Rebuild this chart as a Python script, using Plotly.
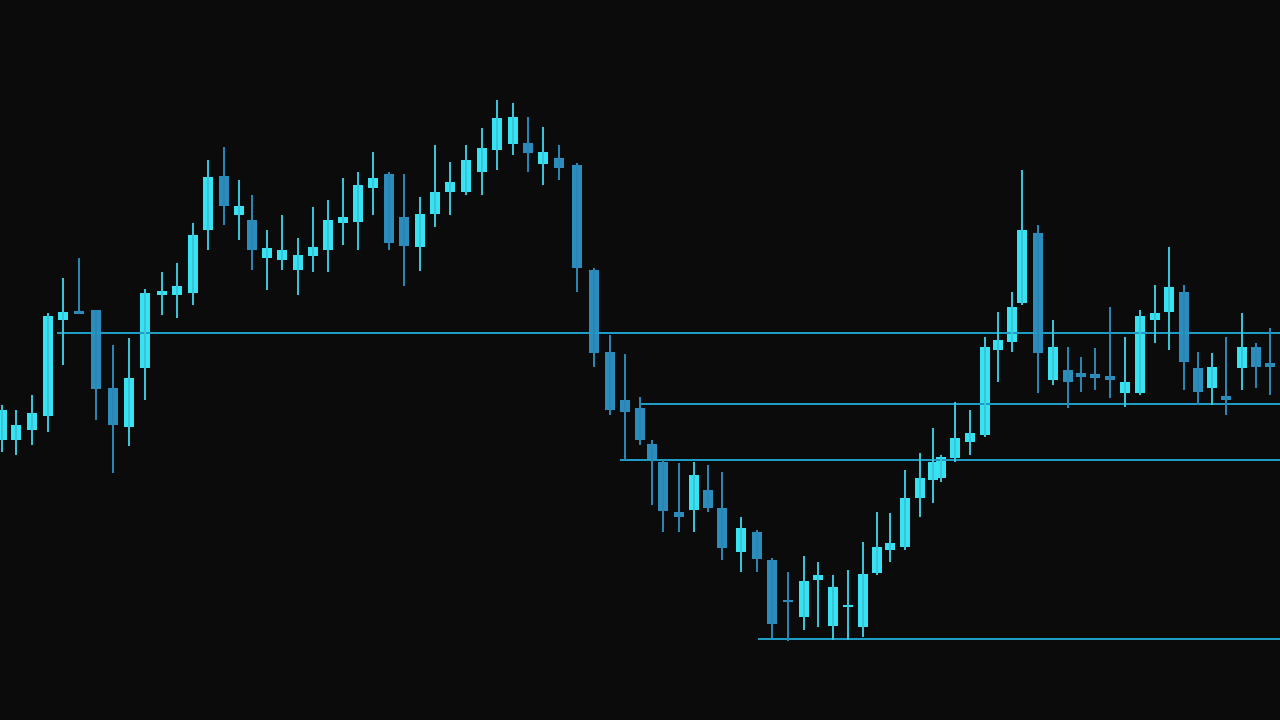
import plotly.graph_objects as go

# candle positions (horizontal position along the time axis)
pos = [2, 16, 32, 48, 63, 79, 96, 113, 129, 145, 162, 177, 193, 208, 224, 239, 252, 267, 282, 298,
       313, 328, 343, 358, 373, 389, 404, 420, 435, 450, 466, 482, 497, 513, 528, 543, 559, 577, 594, 610,
       625, 640, 652, 663, 679, 694, 708, 722, 741, 757, 772, 788, 804, 818, 833, 848, 863, 877, 890, 905,
       920, 933, 941, 955, 970, 985, 998, 1012, 1022, 1038, 1053, 1068, 1081, 1095, 1110, 1125, 1140, 1155, 1169, 1184,
       1198, 1212, 1226, 1242, 1256, 1270]

open_ = [280, 280, 290, 304, 400, 409, 410, 332, 293, 352, 425, 425, 427, 490, 544, 505, 500, 462, 460, 450,
         464, 470, 497, 498, 532, 546, 503, 473, 506, 528, 528, 548, 570, 576, 577, 556, 562, 555, 450, 368,
         320, 312, 276, 258, 208, 210, 230, 212, 168, 188, 160, 120, 103, 140, 94, 113, 93, 147, 170, 173,
         222, 240, 242, 262, 278, 285, 370, 378, 417, 487, 340, 350, 347, 346, 344, 327, 327, 400, 408, 428,
         352, 332, 324, 352, 373, 357]
close = [310, 295, 307, 404, 408, 406, 331, 295, 342, 427, 429, 434, 485, 543, 514, 514, 470, 472, 470, 465,
         473, 500, 503, 535, 542, 477, 474, 506, 528, 538, 560, 572, 602, 603, 567, 568, 552, 452, 367, 310,
         308, 280, 260, 209, 203, 245, 212, 172, 192, 161, 96, 118, 139, 145, 133, 115, 146, 173, 177, 222,
         242, 258, 263, 282, 287, 373, 380, 413, 490, 367, 373, 338, 343, 342, 340, 338, 404, 407, 433, 358,
         328, 353, 320, 373, 353, 353]
high = [315, 310, 325, 407, 442, 462, 410, 375, 382, 431, 448, 457, 497, 560, 573, 540, 525, 490, 505, 482,
        513, 520, 542, 548, 568, 548, 546, 523, 575, 558, 575, 592, 620, 617, 603, 593, 575, 557, 452, 385,
        366, 323, 280, 260, 257, 258, 255, 248, 203, 190, 162, 148, 164, 158, 145, 150, 178, 208, 207, 250,
        267, 292, 265, 318, 310, 383, 408, 428, 550, 495, 400, 373, 363, 372, 413, 383, 410, 435, 473, 435,
        368, 367, 383, 407, 377, 392]
low = [268, 265, 275, 288, 355, 406, 300, 247, 274, 320, 405, 402, 415, 470, 495, 480, 450, 430, 450, 425,
       448, 448, 475, 470, 505, 470, 434, 449, 493, 505, 525, 525, 550, 565, 548, 535, 540, 428, 353, 305,
       260, 275, 215, 188, 188, 188, 208, 160, 148, 148, 82, 79, 90, 93, 80, 80, 83, 145, 158, 170,
       203, 217, 238, 258, 265, 283, 338, 368, 415, 327, 335, 312, 328, 330, 322, 313, 325, 377, 370, 330,
       315, 315, 305, 330, 332, 325]

# horizontal support / resistance levels and where they start
levels = [387, 316, 260, 81]
level_start = [57, 640, 620, 758]

UP_BODY = "#36e3f2"
UP_WICK = "#3cc3d8"
DN_BODY = "#2a8dbd"
DN_WICK = "#2a86b0"
LEVEL_COLOR = "#1f9cc6"
BG = "#0b0b0c"

fig = go.Figure()

# level lines
for lv, xs in zip(levels, level_start):
    fig.add_trace(go.Scatter(x=[xs, 1280], y=[lv, lv], mode="lines",
                             line=dict(color=LEVEL_COLOR, width=2), hoverinfo="skip",
                             showlegend=False))

groups = {"up": dict(x=[], base=[], h=[], wx=[], wy=[]),
          "dn": dict(x=[], base=[], h=[], wx=[], wy=[])}
for xp, o, c, hi, lo in zip(pos, open_, close, high, low):
    g = groups["up" if c >= o else "dn"]
    g["x"].append(xp)
    b = min(o, c)
    h = max(abs(c - o), 2)
    g["base"].append(b)
    g["h"].append(h)
    g["wx"] += [xp, xp, None]
    g["wy"] += [lo, hi, None]

for key, body, wick in (("dn", DN_BODY, DN_WICK), ("up", UP_BODY, UP_WICK)):
    g = groups[key]
    fig.add_trace(go.Scatter(x=g["wx"], y=g["wy"], mode="lines",
                             line=dict(color=wick, width=2), hoverinfo="skip",
                             showlegend=False))
    fig.add_trace(go.Bar(x=g["x"], y=g["h"], base=g["base"], width=10,
                         marker=dict(color=body, line=dict(width=0)),
                         showlegend=False))

fig.update_layout(
    width=1280, height=720,
    margin=dict(l=0, r=0, t=0, b=0),
    paper_bgcolor=BG, plot_bgcolor=BG,
    barmode="overlay",
    xaxis=dict(range=[0, 1280], visible=False, showgrid=False, zeroline=False, fixedrange=True),
    yaxis=dict(range=[0, 720], visible=False, showgrid=False, zeroline=False, fixedrange=True),
    showlegend=False,
)

fig.write_html(
    "out.html",
    config={"displayModeBar": False},
    post_script="document.body.style.margin='0';document.body.style.overflow='hidden';document.body.style.background='#0b0b0c';",
)
